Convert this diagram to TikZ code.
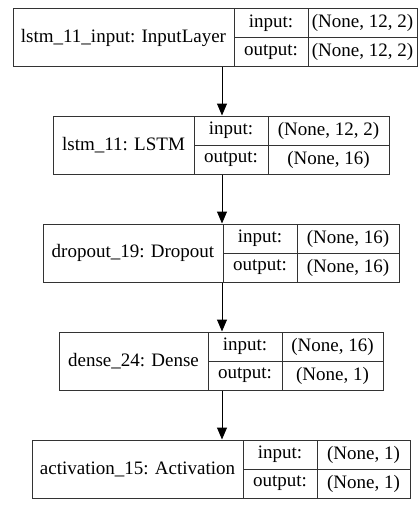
\documentclass[tikz,border=0pt]{standalone}
\usepackage{fontspec}
\setmainfont{Liberation Serif}
\usetikzlibrary{arrows.meta}
\tikzset{
  cellbox/.style={draw=black!80, line width=1pt, inner sep=0pt, minimum height=29pt,
    font=\fontsize{19}{22}\selectfont, text=black},
  layerbox/.style={cellbox, minimum height=58pt},
  arr/.style={draw=black, line width=1pt, -{Triangle[width=10pt,length=12pt]}}
}
\newcommand\mklayer[9]{%
  \node[layerbox, minimum width={#4-#3}] (#1) at ({(#3+#4)/2},{#2+29}) {#7};
  \node[cellbox, minimum width={#5-#4}] (#1i) at ({(#4+#5)/2},{#2+14.5}) {input:};
  \node[cellbox, minimum width={#5-#4}] (#1o) at ({(#4+#5)/2},{#2+43.5}) {output:};
  \node[cellbox, minimum width={#6-#5}] (#1iv) at ({(#5+#6)/2},{#2+14.5}) {#8};
  \node[cellbox, minimum width={#6-#5}] (#1ov) at ({(#5+#6)/2},{#2+43.5}) {#9};
}
\begin{document}
\begin{tikzpicture}[x=1pt,y=-1pt]
  \useasboundingbox (0,0) rectangle (420,507);
  \mklayer{b1}{8.5}{13}{234}{308}{417}{lstm\_11\_input: InputLayer}{(None, 12, 2)}{(None, 12, 2)}
  \mklayer{b2}{116}{53}{194}{268}{389}{lstm\_11: LSTM}{(None, 12, 2)}{(None, 16)}
  \mklayer{b3}{224}{43}{223}{297}{399}{dropout\_19: Dropout}{(None, 16)}{(None, 16)}
  \mklayer{b4}{332}{59}{208}{282}{383}{dense\_24: Dense}{(None, 16)}{(None, 1)}
  \mklayer{b5}{440}{32}{243}{317}{410}{activation\_15: Activation}{(None, 1)}{(None, 1)}
  \coordinate (spine) at (222,0);
  \draw[arr] (b1.south -| spine) -- (b2.north -| spine);
  \draw[arr] (b2.south -| spine) -- (b3.north -| spine);
  \draw[arr] (b3.south -| spine) -- (b4.north -| spine);
  \draw[arr] (b4.south -| spine) -- (b5.north -| spine);
\end{tikzpicture}
\end{document}
